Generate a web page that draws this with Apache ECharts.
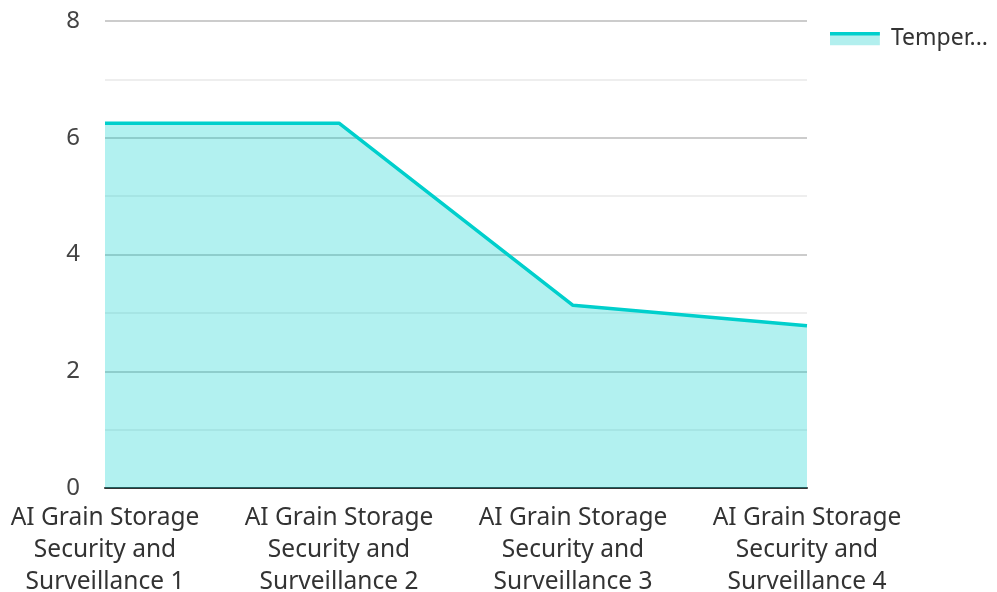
<!DOCTYPE html>
<html><head><meta charset="utf-8">
<script src="https://cdn.jsdelivr.net/npm/echarts@6/dist/echarts.min.js"></script>
<style>html,body{margin:0;padding:0;background:#fff}#c{width:997px;height:592px}</style>
</head><body><div id="c"></div>
<script>
const categories = ['AI Grain Storage Security and Surveillance 1','AI Grain Storage Security and Surveillance 2','AI Grain Storage Security and Surveillance 3','AI Grain Storage Security and Surveillance 4'];
const seriesName = 'Temperature';
const values = [6.25, 6.25, 3.13, 2.78];
const yTicks = [0, 2, 4, 6, 8];

const iconSvg = '<svg xmlns="http://www.w3.org/2000/svg" width="50" height="14"><rect x="0" y="0" width="50" height="14" fill="#b2efee"/><rect x="0" y="0" width="50" height="4" fill="#00cfcc"/></svg>';
const legendIcon = 'image://data:image/svg+xml;charset=utf-8,' + encodeURIComponent(iconSvg);

const chart = echarts.init(document.getElementById('c'));
chart.setOption({
  animation: false,
  textStyle: { fontFamily: 'Noto Sans' },
  grid: { left: 105, right: 190, top: 21, bottom: 104, containLabel: false, outerBoundsMode: 'none' },
  legend: {
    right: 4, top: 22, itemWidth: 50, itemHeight: 14, itemGap: 10,
    textStyle: { fontSize: 23, color: '#333', width: 107, overflow: 'truncate', fontFamily: 'Noto Sans', padding: [0, 0, 0, 6] },
    data: [{ name: seriesName, icon: legendIcon }]
  },
  xAxis: {
    type: 'category', data: categories, boundaryGap: false,
    axisLine: { lineStyle: { color: '#333', width: 2 } },
    axisTick: { show: false },
    axisLabel: {
      fontSize: 24.5, color: '#333', lineHeight: 32, margin: 14, interval: 0,
      formatter: v => v.replace('AI Grain Storage ', 'AI Grain Storage\n').replace('Security and ', 'Security and\n')
    }
  },
  yAxis: {
    type: 'value', min: yTicks[0], max: yTicks[yTicks.length-1], interval: 2,
    axisLine: { show: false }, axisTick: { show: false },
    axisLabel: { fontSize: 24, color: '#444', margin: 25 },
    splitLine: { lineStyle: { color: '#ccc', width: 2 } },
    minorTick: { show: false, splitNumber: 2 },
    minorSplitLine: { show: true, lineStyle: { color: '#eee', width: 2 } }
  },
  series: [{
    name: seriesName, type: 'line', data: values,
    symbol: 'none',
    lineStyle: { color: '#00cfcc', width: 3.5 },
    itemStyle: { color: '#00cfcc' },
    areaStyle: { color: '#00cfcc', opacity: 0.3 }
  }]
});
</script></body></html>
